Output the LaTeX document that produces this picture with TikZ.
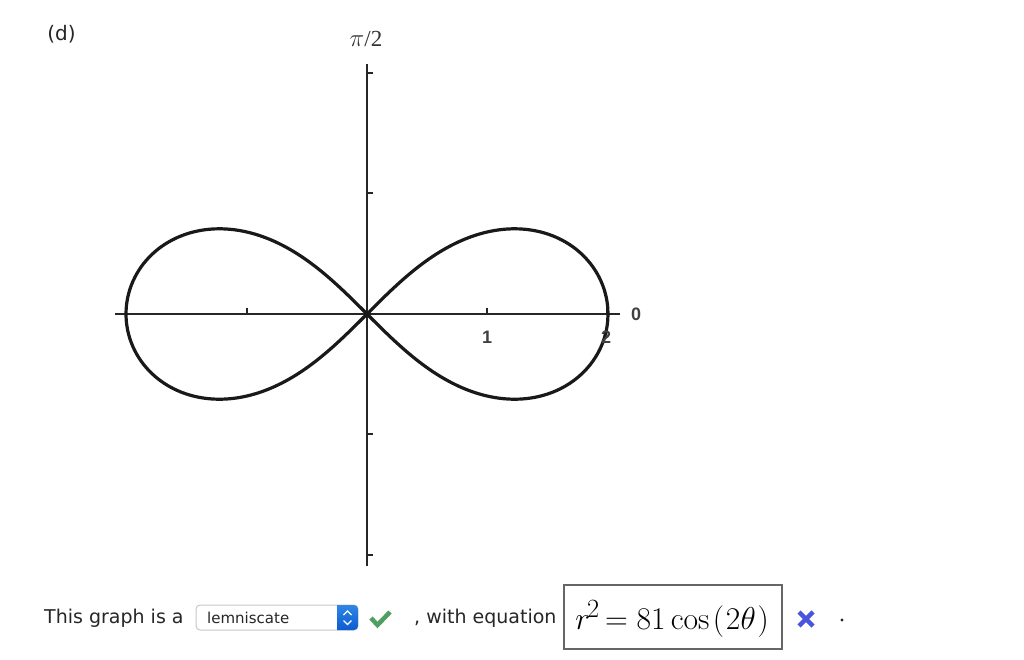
\documentclass[tikz,border=0pt]{standalone}
\usepackage[no-math]{fontspec}
\newfontfamily\uifont{DejaVu Sans}
\newfontfamily\tickfont{Liberation Sans}
\newfontfamily\axisfont{Liberation Serif}
\usetikzlibrary{positioning}
\definecolor{steppertop}{HTML}{2F86E6}
\definecolor{stepperbot}{HTML}{0B5CD0}
\definecolor{checkgreen}{HTML}{4FA060}
\definecolor{crossblue}{HTML}{4A55DD}

\begin{document}
\begin{tikzpicture}[x=1pt, y=-1pt,
    % Define styles
    axis/.style={draw=black!85, line width=1.5pt},
    tick/.style={draw=black!85, line width=1.2pt},
    curve/.style={draw=black!90, line width=3.2pt, line join=round},
    ticklabel/.style={font=\tickfont\bfseries\fontsize{18}{20}\selectfont, text=black!75, inner sep=0pt},
    uitext/.style={font=\uifont\fontsize{19}{22}\selectfont, text=black!85, inner sep=0pt, anchor=base west},
    selectbox/.style={draw=black!22, line width=1pt, fill=white, rounded corners=4pt, minimum width=162pt, minimum height=25pt, inner sep=0pt},
    answerbox/.style={draw=black!60, line width=1.2pt, fill=white, minimum width=218pt, minimum height=64pt, inner sep=0pt}
  ]
  \useasboundingbox (0,0) rectangle (1024,659);

  % Axes
  \coordinate (origin) at (367,314);
  \coordinate (top) at (367,64);
  \coordinate (bottom) at (367,566);
  \coordinate (left) at (115,314);
  \coordinate (right) at (620,314);
  \draw[axis] (top) -- (bottom);
  \draw[axis] (left) -- (right);

  % Ticks
  \foreach \y in {73,193,434,555}
    \draw[tick] (367,\y) -- ++(6,0);
  \foreach \x in {126,247,487,607}
    \draw[tick] (\x,314) -- ++(0,-6);

  % Lemniscate
  \draw[curve] plot[domain=0:360, samples=181, smooth]
    ({367+241*cos(\x)/(1+sin(\x)*sin(\x))}, {314+241*sin(\x)*cos(\x)/(1+sin(\x)*sin(\x))}) -- cycle;

  % Labels
  \node[uitext, anchor=center, font=\uifont\fontsize{20}{24}\selectfont] (part) at (61.5,34) {(d)};
  \node[font=\axisfont\fontsize{23}{26}\selectfont, text=black!80, inner sep=0pt] (halfpi) at (366,39) {$\pi$/2};
  \node[ticklabel, right=11pt of right] (zero) {0};
  \node[ticklabel] (one) at (487,337) {1};
  \node[ticklabel] (two) at (606,337) {2};

  % Answer row
  \node[uitext] (intro) at (44,623) {This graph is a};
  \node[selectbox] (select) at (277,617.5) {};
  \node[font=\uifont\fontsize{15}{18}\selectfont, text=black!85, inner sep=0pt, anchor=base west] (choice) at (207,623) {lemniscate};
  \shade[top color=steppertop, bottom color=stepperbot, rounded corners=0pt]
    (337,605) [rounded corners=4pt] -- (358,605) -- (358,630) [rounded corners=0pt] -- (337,630) -- cycle;
  \draw[white, line width=1.3pt] (343.5,615) -- (347.5,611) -- (351.5,615);
  \draw[white, line width=1.3pt] (343.5,620.5) -- (347.5,624.5) -- (351.5,620.5);
  \draw[checkgreen, line width=4.5pt] (371,618) -- (377.5,625) -- (390,612);
  \node[uitext] (withtext) at (414,623) {, with equation};
  \node[answerbox] (answer) at (673,617) {};
  \node[inner sep=0pt, font=\fontsize{24.88}{30}\selectfont] (equation) at (672,619)
    {\scalebox{1.27}{$r^{\mkern-2mu 2}\mkern-2mu=81\cos\mkern2mu(\mkern1mu 2\theta\mkern1mu)$}};
  \draw[crossblue, line width=4.5pt] (799,612) -- (813,626);
  \draw[crossblue, line width=4.5pt] (813,612) -- (799,626);
  \fill[black!85] (842,620) circle (1.6pt) coordinate (period);
\end{tikzpicture}
\end{document}
